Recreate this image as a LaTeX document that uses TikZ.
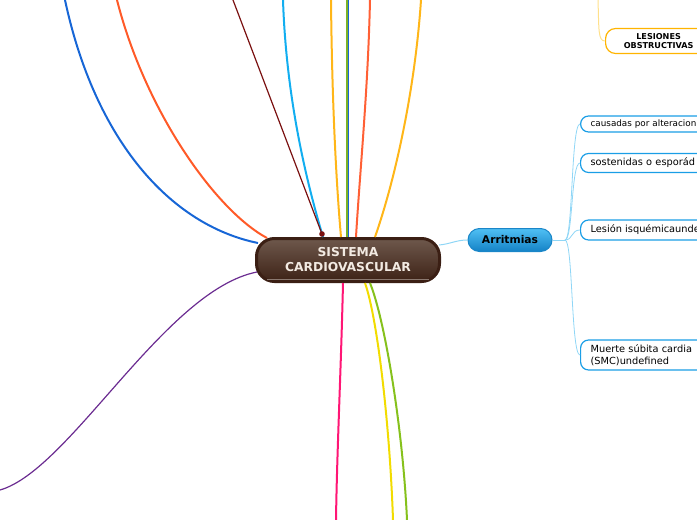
\documentclass[tikz,border=0pt]{standalone}
\usepackage{fontspec}
\setmainfont{DejaVu Sans}

\definecolor{coreline}{HTML}{3B1F14}
\definecolor{coretop}{HTML}{6E584C}
\definecolor{corebot}{HTML}{3D2216}
\definecolor{coretext}{HTML}{F2EAE2}
\definecolor{arrtop}{HTML}{50C0F4}
\definecolor{arrbot}{HTML}{1482C6}
\definecolor{arrline}{HTML}{1A86C8}
\definecolor{kidline}{HTML}{1A9EE6}
\definecolor{kidwire}{HTML}{8FD6F6}
\definecolor{lesline}{HTML}{FFB400}
\definecolor{leswire}{HTML}{FFE08A}
\definecolor{cblue}{HTML}{1766D6}
\definecolor{corange}{HTML}{FF5A28}
\definecolor{cdark}{HTML}{7A1010}
\definecolor{csky}{HTML}{12AEF0}
\definecolor{cgold}{HTML}{FFB618}
\definecolor{cgreen}{HTML}{7DB324}
\definecolor{croyal}{HTML}{3A6FD8}
\definecolor{ctomato}{HTML}{FF6035}
\definecolor{cpink}{HTML}{FF1675}
\definecolor{cyellow}{HTML}{F2DC00}
\definecolor{clime}{HTML}{86C11C}
\definecolor{cpurple}{HTML}{6B2C91}

\tikzset{
  core/.style={draw=coreline, line width=3pt, rounded corners=18pt,
    top color=coretop, bottom color=corebot, minimum width=183pt,
    minimum height=43pt, text=coretext, align=center,
    font=\bfseries\fontsize{12.3}{15}\selectfont},
  topic/.style={draw=arrline, line width=1pt, rounded corners=11.5pt,
    top color=arrtop, bottom color=arrbot, minimum width=84pt,
    minimum height=23pt, font=\bfseries\fontsize{10.7}{12}\selectfont},
  kid/.style={draw=kidline, line width=1.2pt, fill=white, rounded corners=8pt,
    anchor=west, text width=140pt, align=left, inner xsep=10pt, inner ysep=2pt,
    font=\fontsize{9.8}{12}\selectfont},
  lesion/.style={draw=lesline, line width=1.2pt, fill=white, rounded corners=10pt,
    anchor=west, minimum width=106pt, minimum height=25pt, align=center,
    font=\bfseries\fontsize{8.1}{9.5}\selectfont},
  wire/.style={line width=2pt},
}

\begin{document}
\begin{tikzpicture}[x=1pt,y=-1pt]
\useasboundingbox (0,0) rectangle (697,520);
\clip (0,0) rectangle (697,520);

% main nodes
\node (core) [core] at (348,260) {SISTEMA\\CARDIOVASCULAR};
\draw [coretop!80!white, line width=0.6pt] ([xshift=12pt,yshift=4pt]core.south west) -- ([xshift=-12pt,yshift=4pt]core.south east);
\node (arr) [topic] at (510,240) {Arritmias};
\node (les) [lesion] at (605,41) {LESIONES\\OBSTRUCTIVAS};

% children of Arritmias
\node (k1) [kid, font=\fontsize{8.8}{10}\selectfont, minimum height=16pt] at (580,124) {causadas por alteracion};
\node (k2) [kid, minimum height=19pt] at (580,163) {sostenidas o esporád};
\node (k3) [kid, minimum height=20pt] at (580,230) {Lesión isquémicaunde};
\node (k4) [kid, minimum height=30pt] at (580,355) {Muerte súbita cardia\\(SMC)undefined};

% free ends at the border
\coordinate (topBlue) at (65,0);
\coordinate (topOrange) at (117,0);
\coordinate (topDark) at (233,0);
\coordinate (topSky) at (283,0);
\coordinate (topGold) at (331,0);
\coordinate (topGreen) at (346.5,0);
\coordinate (topRoyal) at (348.5,0);
\coordinate (topTomato) at (370,0);
\coordinate (topAmber) at (421,0);
\coordinate (topLes) at (598,0);
\coordinate (lowPink) at (336,520);
\coordinate (lowYellow) at (393,520);
\coordinate (lowLime) at (407,520);
\coordinate (lowPurple) at (0,490);
\coordinate (jct) at (565,240);

% branches going up
\draw [wire, cblue] (topBlue) .. controls (95,140) and (170,225) .. ([xshift=3pt,yshift=-6pt]core.north west);
\draw [wire, corange] (topOrange) .. controls (145,110) and (215,210) .. ([xshift=12pt,yshift=-1pt]core.north west);
\draw [wire, csky] (topSky) .. controls (286,90) and (303,170) .. ([xshift=-25pt]core.north);
\draw [cdark, line width=1.2pt] (topDark) -- ([xshift=-26pt,yshift=3pt]core.north);
\fill [cdark] ([xshift=-26pt,yshift=3pt]core.north) circle [radius=2.8pt];
\draw [wire, cgold] (topGold) .. controls (332,100) and (336,180) .. ([xshift=-7pt]core.north);
\draw [wire, cgreen] (topGreen) -- ([xshift=-1.5pt]core.north);
\draw [cblue, line width=1.4pt] (topRoyal) -- ([xshift=0.5pt]core.north);
\draw [wire, ctomato] (topTomato) .. controls (368,90) and (360,170) .. ([xshift=8pt]core.north);
\draw [wire, cgold] (topAmber) .. controls (415,90) and (395,180) .. ([xshift=27pt]core.north);

% branches going down
\draw [wire, cpink] ([xshift=-5pt]core.south) .. controls (341,370) and (337,450) .. (lowPink);
\draw [wire, cyellow] ([xshift=17pt]core.south) .. controls (378,320) and (390,430) .. (lowYellow);
\draw [wire, clime] ([xshift=22pt]core.south) .. controls (385,320) and (403,430) .. (lowLime);
\draw [cpurple, line width=1.2pt] ([xshift=2pt,yshift=-12pt]core.west) .. controls (165,290) and (70,470) .. (lowPurple);

% Arritmias and its children
\draw [kidwire, line width=1pt] ([xshift=-2pt,yshift=15pt]core.east) to[out=5,in=180] (arr.west);
\draw [kidwire, line width=0.8pt] (arr.east) -- (jct);
\draw [kidwire, line width=0.8pt] (jct) .. controls +(8,0) and +(-9,0) .. (k1.west);
\draw [kidwire, line width=0.8pt] (jct) .. controls +(8,0) and +(-9,0) .. (k2.west);
\draw [kidwire, line width=0.8pt] (jct) .. controls +(8,0) and +(-9,0) .. (k3.west);
\draw [kidwire, line width=0.8pt] (jct) .. controls +(8,0) and +(-9,0) .. (k4.west);

% Lesiones
\draw [leswire, line width=1pt] (topLes) .. controls (599,30) and (598,41) .. (les.west);
\end{tikzpicture}
\end{document}
